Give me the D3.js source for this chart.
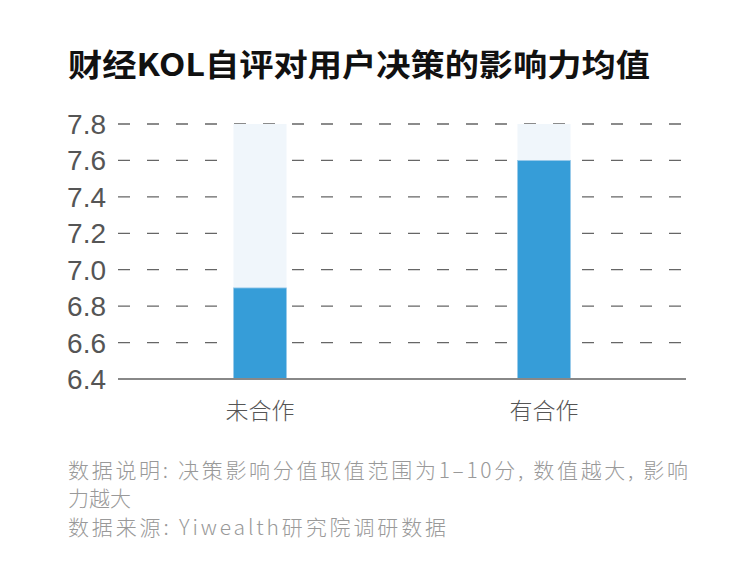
<!DOCTYPE html>
<html><head><meta charset="utf-8">
<script src="https://cdn.jsdelivr.net/npm/d3@7"></script>
<style>
body{margin:0;background:#fff;}
svg{display:block;}
</style></head>
<body>
<svg id="chart" width="754" height="588"></svg>
<script>
const categories = ["未合作", "有合作"];
const values = [6.9, 7.6];
const yTicks = [6.4, 6.6, 6.8, 7.0, 7.2, 7.4, 7.6, 7.8];
const title = "财经KOL自评对用户决策的影响力均值";
const notes = ["数据说明: 决策影响分值取值范围为1–10分, 数值越大, 影响", "力越大", "数据来源: Yiwealth研究院调研数据"];

(function(){
const svg = d3.select("#chart");
const cjk = "'Noto Sans CJK SC','Liberation Sans',sans-serif";
const pl = 118, pr = 686, pt = 124, pb = 379;
const x = d3.scaleBand().domain(categories).range([pl, pr]).padding(0);
const y = d3.scaleLinear().domain([6.4, 7.8]).range([pb, pt]);
const barW = 53;

svg.append("text").attr("x", 68).attr("y", 76)
  .style("font-family", cjk)
  .attr("font-size", 31).attr("font-weight", "bold").attr("fill", "#111")
  .attr("textLength", 582).attr("lengthAdjust", "spacingAndGlyphs")
  .text(title);

svg.append("g").selectAll("line").data(yTicks.filter(d => d > 6.4)).join("line")
  .attr("x1", pl).attr("x2", pr)
  .attr("y1", d => y(d)).attr("y2", d => y(d))
  .attr("stroke", "#666").attr("stroke-width", 1.3)
  .attr("stroke-dasharray", "12,17");

svg.append("g").selectAll("text").data(yTicks).join("text")
  .attr("x", 106).attr("y", d => y(d) + 10)
  .attr("text-anchor", "end").attr("font-size", 28)
  .style("font-family", "'Liberation Sans',Arial,sans-serif")
  .attr("fill", "#555")
  .text(d => d.toFixed(1));

svg.append("g").selectAll("rect").data(categories).join("rect")
  .attr("x", d => x(d) + x.bandwidth()/2 - barW/2)
  .attr("width", barW)
  .attr("y", y(7.8)).attr("height", y(6.4) - y(7.8))
  .attr("fill", "#f0f6fb");

svg.append("g").selectAll("rect").data(values).join("rect")
  .attr("x", (d, i) => x(categories[i]) + x.bandwidth()/2 - barW/2)
  .attr("width", barW)
  .attr("y", d => y(d)).attr("height", d => y(6.4) - y(d))
  .attr("fill", "#369dd8")
  .attr("stroke", "#9ccbea").attr("stroke-width", 0.8);

svg.append("line").attr("x1", pl).attr("x2", pr)
  .attr("y1", pb).attr("y2", pb)
  .attr("stroke", "#888").attr("stroke-width", 2);

svg.append("g").selectAll("text").data(categories).join("text")
  .attr("x", d => x(d) + x.bandwidth()/2).attr("y", 419)
  .attr("text-anchor", "middle").attr("font-size", 23).attr("fill", "#555")
  .style("font-family", cjk).style("font-weight", 300)
  .text(d => d);

const noteLen = [620, null, 378];
svg.append("g").selectAll("text").data(notes).join("text")
  .attr("x", 68).attr("y", (d, i) => [478, 506, 535][i])
  .attr("font-size", 21).attr("fill", "#999")
  .style("font-family", cjk).style("font-weight", 300)
  .text(d => d)
  .each(function(d, i){ if (noteLen[i]) d3.select(this).attr("textLength", noteLen[i]).attr("lengthAdjust", "spacing"); });
})();
</script>
</body></html>
